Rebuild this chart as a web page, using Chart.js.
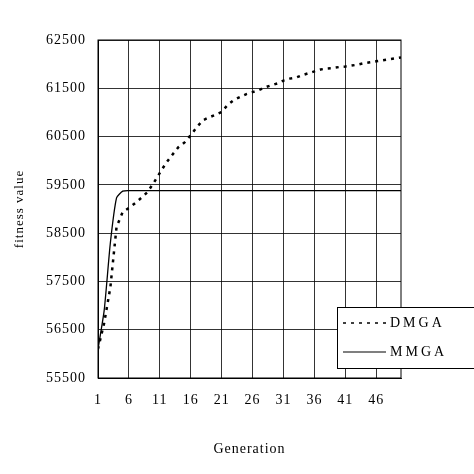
<!DOCTYPE html><html><head><script src="https://cdn.jsdelivr.net/npm/chart.js@4"></script>
<style>html,body{margin:0;background:#fff}</style></head><body>
<canvas id="c" width="474" height="474" style="width:474px;height:474px"></canvas>
<script>
const generations = Array.from({length:50},(_,i)=>i+1);
const dmga = [56100,56640,57380,58630,58940,59020,59120,59230,59350,59540,59750,59950,60120,60280,60380,60530,60700,60840,60900,60950,61010,61160,61260,61320,61380,61420,61460,61520,61560,61600,61660,61700,61720,61770,61810,61850,61890,61910,61920,61940,61950,61970,61990,62020,62040,62060,62080,62100,62120,62140];
const mmga = [56100,56900,58300,59230,59370,59380,59380,59380,59380,59380,59380,59380,59380,59380,59380,59380,59380,59380,59380,59380,59380,59380,59380,59380,59380,59380,59380,59380,59380,59380,59380,59380,59380,59380,59380,59380,59380,59380,59380,59380,59380,59380,59380,59380,59380,59380,59380,59380,59380,59380];
const xTicks = [1,6,11,16,21,26,31,36,41,46];
const seriesNames = ['DMGA','MMGA'];
const F = 'Liberation Serif';
const plug = {id:'p',
 beforeDraw(c){c.ctx.letterSpacing='1px';},
 afterDraw(c){const x=c.ctx,a=c.chartArea;x.save();x.letterSpacing='0px';
  x.strokeStyle='#000';x.lineWidth=1;x.strokeRect(a.left,a.top,a.right-a.left,a.bottom-a.top);
  x.fillStyle='#fff';x.fillRect(337,307,150,61);x.strokeRect(337.5,307.5,150,61);
  x.lineWidth=1.5;x.setLineDash([3,5]);x.beginPath();x.moveTo(343,323);x.lineTo(386,323);x.stroke();
  x.setLineDash([]);x.lineWidth=1.2;x.beginPath();x.moveTo(343,352);x.lineTo(386,352);x.stroke();
  x.fillStyle='#000';x.font='14px "'+F+'"';x.letterSpacing='3px';x.textBaseline='middle';
  x.fillText(seriesNames[0],390,323);x.fillText(seriesNames[1],390,352);x.restore();}};
new Chart(document.getElementById('c'),{type:'line',
 data:{datasets:[
  {label:seriesNames[0],data:generations.map((g,i)=>({x:g,y:dmga[i]})),borderColor:'#000',borderWidth:2.5,borderDash:[3,5],pointRadius:0,tension:0},
  {label:seriesNames[1],data:generations.map((g,i)=>({x:g,y:mmga[i]})),borderColor:'#000',borderWidth:1.3,pointRadius:0,tension:0.2}]},
 options:{responsive:false,animation:false,layout:{padding:{top:40,right:73,left:8,bottom:12}},
  plugins:{legend:{display:false},tooltip:{enabled:false}},
  scales:{
   x:{type:'linear',min:1,max:50,afterBuildTicks:s=>{s.ticks=xTicks.map(v=>({value:v}))},
    grid:{color:'#000',lineWidth:0.8,drawTicks:false},border:{color:'#000'},
    ticks:{color:'#000',font:{family:F,size:14},padding:14,maxRotation:0},
    title:{display:true,text:'Generation',color:'#000',font:{family:F,size:14},padding:{top:20}},
    afterFit:s=>{s.height=84}},
   y:{min:55500,max:62500,ticks:{stepSize:1000,color:'#000',font:{family:F,size:14},padding:12,callback:v=>String(v)},
    grid:{color:'#000',lineWidth:0.8,drawTicks:false},border:{color:'#000'},
    title:{display:true,text:'fitness value',color:'#000',font:{family:F,size:13},padding:{bottom:2}},
    afterFit:s=>{s.width=90}}}},
 plugins:[plug]});
</script></body></html>
